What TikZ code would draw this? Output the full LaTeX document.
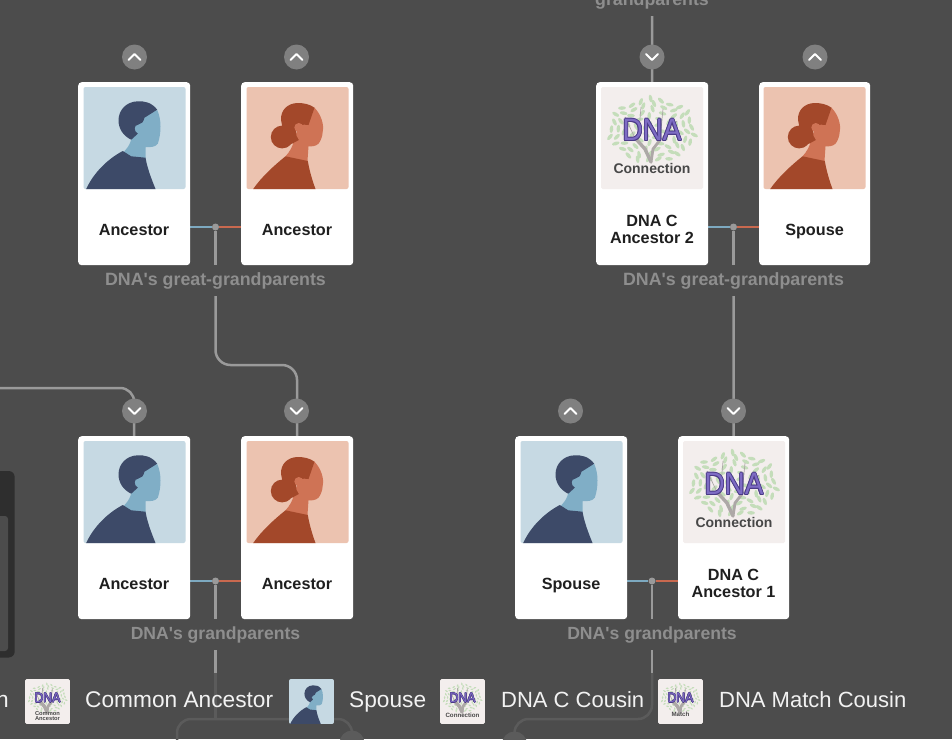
\documentclass[tikz,border=0pt]{standalone}
\usepackage{fontspec}
\setmainfont{Liberation Sans}[Ligatures=TeXOff]
\pgfdeclarelayer{bgl}\pgfdeclarelayer{lines}\pgfdeclarelayer{top}
\pgfsetlayers{bgl,lines,main,top}
\definecolor{bgc}{HTML}{4C4C4C}
\definecolor{panelc}{HTML}{2E2E2E}
\definecolor{conn}{HTML}{9A9A9A}
\definecolor{fade}{HTML}{5B5B5B}
\definecolor{btnc}{HTML}{808080}
\definecolor{lblc}{HTML}{8E8E8E}
\definecolor{spb}{HTML}{7DA9C0}
\definecolor{spo}{HTML}{C9694F}
\definecolor{mbg}{HTML}{C6D9E3}
\definecolor{mhair}{HTML}{3D4A68}
\definecolor{mface}{HTML}{80AEC6}
\definecolor{fbg}{HTML}{ECC3B0}
\definecolor{fhair}{HTML}{A3482A}
\definecolor{fface}{HTML}{CF7355}
\definecolor{lbg}{HTML}{F3EEED}
\definecolor{leafc}{HTML}{C4DDBA}
\definecolor{trunkc}{HTML}{ADA8A7}
\definecolor{dnafill}{HTML}{7E6CC4}
\definecolor{dnaline}{HTML}{4A3A86}
\tikzset{
  cardbox/.style={draw=none,fill=white,rounded corners=3.5pt,minimum width=112pt,minimum height=183pt,inner sep=0pt,anchor=north west},
  cardtext/.style={inner sep=0pt,align=center,text=black!88,font=\fontsize{16.2}{16.6}\selectfont\bfseries},
  cardone/.style={cardtext,text height=12pt,text depth=4pt},
  gen/.style={inner sep=0pt,minimum height=34pt,text height=13pt,text depth=0pt,text=lblc,font=\fontsize{17.8}{18}\selectfont\bfseries},
  gens/.style={gen,font=\fontsize{17.6}{18}\selectfont\bfseries},
  legend/.style={inner sep=0pt,anchor=west,text height=17pt,text depth=5pt,text=white!95!black,font=\fontsize{22.7}{24}\selectfont},
  legendn/.style={legend,font=\fontsize{22}{24}\selectfont},
  conline/.style={draw=conn,line width=2.5pt},
  fadeline/.style={draw=fade,line width=2.5pt},
  bluepart/.style={draw=spb,line width=2.5pt},
  orangepart/.style={draw=spo,line width=2.5pt},
  dotmark/.style={circle,fill=conn,inner sep=0pt,minimum size=7pt},
  btn/.style={circle,fill=btnc,inner sep=0pt,minimum size=25pt},
  fbtn/.style={circle,fill=fade,inner sep=0pt,minimum size=25pt},
  chev/.style={draw=white,line width=2pt,line cap=round,line join=round},
}
% male portrait in a 102x102 box
\newcommand{\maleimg}[2]{\begin{scope}[shift={(#1,#2)}]
  \fill[mbg,rounded corners=2pt] (0,0) rectangle (102,102);
  \fill[mface] (73.7,23) .. controls (78,32) and (78,46) .. (74.3,56.7) .. controls (72,60) and (67,60.5) .. (62,60) -- (62,76) -- (36,76) -- (41,64) .. controls (45,60) and (47,56) .. (47.7,51.7) -- (54,30) -- cycle;
  \fill[mhair] (73.7,22.7) .. controls (68,15) and (60,14) .. (54.3,14.3) .. controls (43,14.5) and (35,23) .. (35,33.3) .. controls (35,42) and (40,49) .. (47.7,52.7) -- (54.3,46.7) .. controls (50,44) and (50,38) .. (55,37.5) .. controls (58,37) and (60,35) .. (61,30.7) -- cycle;
  \fill[mhair] (2.7,102) .. controls (10,86) and (24,72) .. (39.3,64) -- (47.7,69.3) -- (62,70.7) .. controls (64,82) and (68,92) .. (72,102) -- cycle;
\end{scope}}
% female portrait
\newcommand{\femaleimg}[2]{\begin{scope}[shift={(#1,#2)}]
  \fill[fbg,rounded corners=2pt] (0,0) rectangle (102,102);
  \fill[fface] (68,20.7) .. controls (75,28) and (77.5,38) .. (76.3,44) .. controls (76,50) and (74,54) .. (72,56.7) .. controls (69,59.5) and (65,59.5) .. (62,59.3) -- (60.7,78) -- (36,78) -- (39,69.3) .. controls (43,65) and (46,60) .. (47.3,54) -- (55,30) -- cycle;
  \fill[fhair] (35.7,50) circle [radius=11.4pt];
  \fill[fhair] (68,20.7) .. controls (63,17) and (57,16) .. (50.7,16) .. controls (41,16.5) and (34,23) .. (34.5,33) -- (37,45) -- (45,57) -- (52.3,53) .. controls (48,48) and (49,41) .. (53,38.5) .. controls (57,37) and (60,38) .. (62,38) -- cycle;
  \fill[fface] (52.3,40.5) circle [radius=4.5pt];
  \fill[fhair] (6.7,102) .. controls (15,90) and (27,79) .. (39,69.3) -- (61.3,74) .. controls (63,84) and (66,94) .. (69,102) -- cycle;
\end{scope}}
% DNA logo: prefix, x, y, scale, subtitle, subtitle y, subtitle size
\newcommand{\logoimg}[7]{\begin{scope}[shift={(#2,#3)},scale=#4]
  \fill[lbg,rounded corners=1.5pt] (0,0) rectangle (102,102);
  \foreach \r/\n/\o in {0.22/6/10,0.45/11/0,0.66/15/7,0.84/20/3,1/25/9}{
    \foreach \i in {1,...,\n}{
      \pgfmathsetmacro{\a}{\o+360*\i/\n}
      \fill[leafc] ({51+41*(\r+.05*sin(\a*7))*cos(\a)},{43+30*(\r+.05*sin(\a*7))*sin(\a)}) circle [x radius=3.9pt,y radius=1.8pt,rotate=\a*2.3+25];
    }}
  \draw[trunkc,line width=3.4pt,line cap=round] (50,75) -- (44,62) -- (34,51);
  \draw[trunkc,line width=2.8pt,line cap=round] (50,75) -- (52,62) -- (59,53);
  \draw[trunkc,line width=.7pt] (34,51) -- (24,30) (37,55) -- (40,20) (59,53) -- (62,22) (59,53) -- (76,34);
  \foreach \dx/\dy [count=\k] in {-.9/0,.9/0,0/-.9,0/.9,-.65/-.65,.65/-.65,-.65/.65,.65/.65}{
    \node[inner sep=0pt,transform shape,text=dnaline,xscale=.9,font=\fontsize{31}{32}\selectfont] (#1out\k) at (51+\dx,43+\dy) {DNA};
  }
  \node[inner sep=0pt,transform shape,text=dnafill,xscale=.9,font=\fontsize{31}{32}\selectfont] (#1dna) at (51,43) {DNA};
  \node[inner sep=0pt,transform shape,align=center,text=black!72,font=\fontsize{#7}{#7}\selectfont\bfseries] (#1sub) at (51,#6) {#5};
\end{scope}}
\newcommand{\chevup}[1]{\draw[chev] ([shift={(-6,3)}]#1.center) -- ([shift={(0,-3)}]#1.center) -- ([shift={(6,3)}]#1.center);}
\newcommand{\chevdown}[1]{\draw[chev] ([shift={(-6,-3)}]#1.center) -- ([shift={(0,3)}]#1.center) -- ([shift={(6,-3)}]#1.center);}
\begin{document}
\begin{tikzpicture}[x=1pt,y=-1pt]
\useasboundingbox (0,0) rectangle (952,739);
\begin{pgfonlayer}{bgl}
  \fill[bgc] (0,0) rectangle (952,739);
  \fill[panelc,rounded corners=6pt] (-20,471) rectangle (14.7,657.5);
  \fill[bgc,rounded corners=3pt] (-20,516) rectangle (8,651);
\end{pgfonlayer}

% cards
\node[cardbox] (gga) at (78,82) {};
\node[cardbox] (ggb) at (241,82) {};
\node[cardbox] (cat) at (596,82) {};
\node[cardbox,minimum width=111pt] (csp) at (759,82) {};
\node[cardbox] (ga) at (78,436) {};
\node[cardbox] (gb) at (241,436) {};
\node[cardbox] (sp) at (515,436) {};
\node[cardbox,minimum width=111pt] (cao) at (678,436) {};

\maleimg{83.5}{87}
\femaleimg{246.5}{87}
\logoimg{ca}{601}{87}{1}{Connection}{81}{14}
\femaleimg{763.5}{87}
\maleimg{83.5}{441}
\femaleimg{246.5}{441}
\maleimg{520.5}{441}
\logoimg{cb}{683}{441}{1}{Connection}{81}{14}

% card texts
\node[cardone] (tgga) at (134,231) {Ancestor};
\node[cardone] (tggb) at (297,231) {Ancestor};
\node[cardtext] (tcat) at (652,229.5) {DNA C\\Ancestor 2};
\node[cardone] (tcsp) at (814.5,231) {Spouse};
\node[cardone] (tga) at (134,585) {Ancestor};
\node[cardone] (tgb) at (297,585) {Ancestor};
\node[cardone] (tsp) at (571,585) {Spouse};
\node[cardtext] (tcao) at (733.5,583.5) {DNA C\\Ancestor 1};

% generation labels
\node[gen] (ltop) at (652,-1) {grandparents};
\node[gen] (l1) at (215.5,279) {DNA's great-grandparents};
\node[gen] (l2) at (733.5,279) {DNA's great-grandparents};
\node[gens] (l3) at (215.5,633) {DNA's grandparents};
\node[gens] (l4) at (652,633) {DNA's grandparents};

% marriage dots
\node[dotmark] (d1) at (215.5,227) {};
\node[dotmark] (d2) at (733.5,227) {};
\node[dotmark] (d3) at (215.5,581) {};
\node[dotmark] (d4) at (652,581) {};

% buttons
\node[btn] (b1) at (134.5,57) {}; \chevup{b1}
\node[btn] (b2) at (296.5,57) {}; \chevup{b2}
\node[btn] (b3) at (652,57) {}; \chevdown{b3}
\node[btn] (b4) at (815,57) {}; \chevup{b4}
\node[btn] (b5) at (134.5,411) {}; \chevdown{b5}
\node[btn] (b6) at (296.5,411) {}; \chevdown{b6}
\node[btn] (b7) at (570.5,411) {}; \chevup{b7}
\node[btn] (b8) at (733.5,411) {}; \chevdown{b8}
\node[fbtn] (b9) at (352,743) {};
\node[fbtn] (b10) at (514.5,744) {};

\coordinate (offl) at (-5,388);
\coordinate (h1) at (297,365);
\coordinate (e3) at (215.5,673);
\coordinate (e4) at (652,673);
\coordinate (hb) at (215.5,719);
\coordinate (downl) at (177,745);

\begin{pgfonlayer}{lines}
  \draw[conline] (ltop.south) -- (cat.north);
  \draw[conline,rounded corners=15pt] (l1.south) -- (l1.south |- h1) -- (h1) -- (gb.north);
  \draw[conline] (l2.south) -- (cao.north);
  \draw[conline,rounded corners=14pt] (offl) -- (offl -| ga.north) -- (ga.north);
  \foreach \a/\b/\d in {gga/ggb/d1,cat/csp/d2,ga/gb/d3,sp/cao/d4}{
    \draw[bluepart] (\a.east |- \d) -- (\d);
    \draw[orangepart] (\d) -- (\b.west |- \d);
    \draw[conline] (\d) -- (\d |- \a.south);
  }
  \draw[conline] (l3.south) -- (e3);
  \draw[conline] (l4.south) -- (e4);
  \draw[fadeline] (e3) -- (hb);
  \draw[fadeline,rounded corners=14pt] (downl) -- (downl |- hb) -- (b9 |- hb) -- (b9);
  \draw[fadeline,rounded corners=14pt] (e4) -- (e4 |- hb) -- (b10 |- hb) -- (b10);
\end{pgfonlayer}

% legend
\begin{pgfonlayer}{top}
  \node[legend,anchor=east] (lh) at (9,701) {h};
  \logoimg{la}{25}{679}{.441}{Common\\Ancestor}{84}{13}
  \node[legend] (lca) at (85,701) {Common Ancestor};
  \begin{scope}[shift={(289,679)},scale=.441]\maleimg{0}{0}\end{scope}
  \node[legend] (lsp) at (349,701) {Spouse};
  \logoimg{lb}{440}{679}{.441}{Connection}{82}{14}
  \node[legendn] (lcc) at (501,701) {DNA C Cousin};
  \logoimg{lc}{658}{679}{.441}{Match}{81}{14}
  \node[legendn] (lmc) at (719,701) {DNA Match Cousin};
\end{pgfonlayer}
\end{tikzpicture}
\end{document}
